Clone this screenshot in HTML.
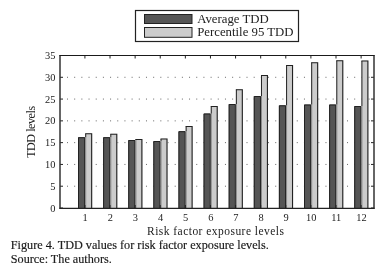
<!DOCTYPE html>
<html><head><meta charset="utf-8"><style>
html,body{margin:0;padding:0;background:#fff;width:390px;height:273px;overflow:hidden}
svg{display:block;will-change:transform}
text{font-family:"Liberation Serif",serif;fill:#222}
</style></head><body>
<svg width="390" height="273" viewBox="0 0 390 273">
<line x1="67.0" y1="186.21" x2="371" y2="186.21" stroke="#666" stroke-width="1" stroke-dasharray="1 6.18"/>
<line x1="67.0" y1="164.43" x2="371" y2="164.43" stroke="#666" stroke-width="1" stroke-dasharray="1 6.18"/>
<line x1="67.0" y1="142.64" x2="371" y2="142.64" stroke="#666" stroke-width="1" stroke-dasharray="1 6.18"/>
<line x1="67.0" y1="120.86" x2="371" y2="120.86" stroke="#666" stroke-width="1" stroke-dasharray="1 6.18"/>
<line x1="67.0" y1="99.07" x2="371" y2="99.07" stroke="#666" stroke-width="1" stroke-dasharray="1 6.18"/>
<line x1="67.0" y1="77.29" x2="371" y2="77.29" stroke="#666" stroke-width="1" stroke-dasharray="1 6.18"/>
<rect x="78.01" y="137.20" width="7.2" height="70.80" fill="#555"/>
<rect x="85.21" y="133.30" width="7.0" height="74.70" fill="#ccc"/>
<path d="M78.51,208 V137.70 H84.71 V208" fill="none" stroke="#222" stroke-width="1"/>
<path d="M85.71,208 V137.20" fill="none" stroke="#888" stroke-width="1"/>
<path d="M85.71,137.20 V133.80" fill="none" stroke="#222" stroke-width="1"/>
<path d="M85.21,133.80 H91.66 V208" fill="none" stroke="#222" stroke-width="1.1"/>
<rect x="103.12" y="137.20" width="7.2" height="70.80" fill="#555"/>
<rect x="110.32" y="133.70" width="7.0" height="74.30" fill="#ccc"/>
<path d="M103.62,208 V137.70 H109.82 V208" fill="none" stroke="#222" stroke-width="1"/>
<path d="M110.82,208 V137.20" fill="none" stroke="#888" stroke-width="1"/>
<path d="M110.82,137.20 V134.20" fill="none" stroke="#222" stroke-width="1"/>
<path d="M110.32,134.20 H116.77 V208" fill="none" stroke="#222" stroke-width="1.1"/>
<rect x="128.23" y="140.00" width="7.2" height="68.00" fill="#555"/>
<rect x="135.43" y="139.00" width="7.0" height="69.00" fill="#ccc"/>
<path d="M128.73,208 V140.50 H134.93 V208" fill="none" stroke="#222" stroke-width="1"/>
<path d="M135.93,208 V140.00" fill="none" stroke="#888" stroke-width="1"/>
<path d="M135.93,140.00 V139.50" fill="none" stroke="#222" stroke-width="1"/>
<path d="M135.43,139.50 H141.88 V208" fill="none" stroke="#222" stroke-width="1.1"/>
<rect x="153.34" y="141.00" width="7.2" height="67.00" fill="#555"/>
<rect x="160.54" y="138.50" width="7.0" height="69.50" fill="#ccc"/>
<path d="M153.84,208 V141.50 H160.04 V208" fill="none" stroke="#222" stroke-width="1"/>
<path d="M161.04,208 V141.00" fill="none" stroke="#888" stroke-width="1"/>
<path d="M161.04,141.00 V139.00" fill="none" stroke="#222" stroke-width="1"/>
<path d="M160.54,139.00 H166.99 V208" fill="none" stroke="#222" stroke-width="1.1"/>
<rect x="178.45" y="131.20" width="7.2" height="76.80" fill="#555"/>
<rect x="185.65" y="126.00" width="7.0" height="82.00" fill="#ccc"/>
<path d="M178.95,208 V131.70 H185.15 V208" fill="none" stroke="#222" stroke-width="1"/>
<path d="M186.15,208 V131.20" fill="none" stroke="#888" stroke-width="1"/>
<path d="M186.15,131.20 V126.50" fill="none" stroke="#222" stroke-width="1"/>
<path d="M185.65,126.50 H192.10 V208" fill="none" stroke="#222" stroke-width="1.1"/>
<rect x="203.56" y="113.50" width="7.2" height="94.50" fill="#555"/>
<rect x="210.76" y="106.00" width="7.0" height="102.00" fill="#ccc"/>
<path d="M204.06,208 V114.00 H210.26 V208" fill="none" stroke="#222" stroke-width="1"/>
<path d="M211.26,208 V113.50" fill="none" stroke="#888" stroke-width="1"/>
<path d="M211.26,113.50 V106.50" fill="none" stroke="#222" stroke-width="1"/>
<path d="M210.76,106.50 H217.21 V208" fill="none" stroke="#222" stroke-width="1.1"/>
<rect x="228.67" y="104.00" width="7.2" height="104.00" fill="#555"/>
<rect x="235.87" y="89.20" width="7.0" height="118.80" fill="#ccc"/>
<path d="M229.17,208 V104.50 H235.37 V208" fill="none" stroke="#222" stroke-width="1"/>
<path d="M236.37,208 V104.00" fill="none" stroke="#888" stroke-width="1"/>
<path d="M236.37,104.00 V89.70" fill="none" stroke="#222" stroke-width="1"/>
<path d="M235.87,89.70 H242.32 V208" fill="none" stroke="#222" stroke-width="1.1"/>
<rect x="253.78" y="96.00" width="7.2" height="112.00" fill="#555"/>
<rect x="260.98" y="75.00" width="7.0" height="133.00" fill="#ccc"/>
<path d="M254.28,208 V96.50 H260.48 V208" fill="none" stroke="#222" stroke-width="1"/>
<path d="M261.48,208 V96.00" fill="none" stroke="#888" stroke-width="1"/>
<path d="M261.48,96.00 V75.50" fill="none" stroke="#222" stroke-width="1"/>
<path d="M260.98,75.50 H267.43 V208" fill="none" stroke="#222" stroke-width="1.1"/>
<rect x="278.89" y="105.30" width="7.2" height="102.70" fill="#555"/>
<rect x="286.09" y="65.00" width="7.0" height="143.00" fill="#ccc"/>
<path d="M279.39,208 V105.80 H285.59 V208" fill="none" stroke="#222" stroke-width="1"/>
<path d="M286.59,208 V105.30" fill="none" stroke="#888" stroke-width="1"/>
<path d="M286.59,105.30 V65.50" fill="none" stroke="#222" stroke-width="1"/>
<path d="M286.09,65.50 H292.54 V208" fill="none" stroke="#222" stroke-width="1.1"/>
<rect x="304.00" y="104.50" width="7.2" height="103.50" fill="#555"/>
<rect x="311.20" y="62.20" width="7.0" height="145.80" fill="#ccc"/>
<path d="M304.50,208 V105.00 H310.70 V208" fill="none" stroke="#222" stroke-width="1"/>
<path d="M311.70,208 V104.50" fill="none" stroke="#888" stroke-width="1"/>
<path d="M311.70,104.50 V62.70" fill="none" stroke="#222" stroke-width="1"/>
<path d="M311.20,62.70 H317.65 V208" fill="none" stroke="#222" stroke-width="1.1"/>
<rect x="329.11" y="104.50" width="7.2" height="103.50" fill="#555"/>
<rect x="336.31" y="60.20" width="7.0" height="147.80" fill="#ccc"/>
<path d="M329.61,208 V105.00 H335.81 V208" fill="none" stroke="#222" stroke-width="1"/>
<path d="M336.81,208 V104.50" fill="none" stroke="#888" stroke-width="1"/>
<path d="M336.81,104.50 V60.70" fill="none" stroke="#222" stroke-width="1"/>
<path d="M336.31,60.70 H342.76 V208" fill="none" stroke="#222" stroke-width="1.1"/>
<rect x="354.22" y="106.00" width="7.2" height="102.00" fill="#555"/>
<rect x="361.42" y="60.50" width="7.0" height="147.50" fill="#ccc"/>
<path d="M354.72,208 V106.50 H360.92 V208" fill="none" stroke="#222" stroke-width="1"/>
<path d="M361.92,208 V106.00" fill="none" stroke="#888" stroke-width="1"/>
<path d="M361.92,106.00 V61.00" fill="none" stroke="#222" stroke-width="1"/>
<path d="M361.42,61.00 H367.87 V208" fill="none" stroke="#222" stroke-width="1.1"/>
<line x1="84.91" y1="208" x2="84.91" y2="205" stroke="#222" stroke-width="1"/>
<line x1="84.91" y1="55.5" x2="84.91" y2="58.5" stroke="#222" stroke-width="1"/>
<line x1="110.02" y1="208" x2="110.02" y2="205" stroke="#222" stroke-width="1"/>
<line x1="110.02" y1="55.5" x2="110.02" y2="58.5" stroke="#222" stroke-width="1"/>
<line x1="135.13" y1="208" x2="135.13" y2="205" stroke="#222" stroke-width="1"/>
<line x1="135.13" y1="55.5" x2="135.13" y2="58.5" stroke="#222" stroke-width="1"/>
<line x1="160.24" y1="208" x2="160.24" y2="205" stroke="#222" stroke-width="1"/>
<line x1="160.24" y1="55.5" x2="160.24" y2="58.5" stroke="#222" stroke-width="1"/>
<line x1="185.35" y1="208" x2="185.35" y2="205" stroke="#222" stroke-width="1"/>
<line x1="185.35" y1="55.5" x2="185.35" y2="58.5" stroke="#222" stroke-width="1"/>
<line x1="210.46" y1="208" x2="210.46" y2="205" stroke="#222" stroke-width="1"/>
<line x1="210.46" y1="55.5" x2="210.46" y2="58.5" stroke="#222" stroke-width="1"/>
<line x1="235.57" y1="208" x2="235.57" y2="205" stroke="#222" stroke-width="1"/>
<line x1="235.57" y1="55.5" x2="235.57" y2="58.5" stroke="#222" stroke-width="1"/>
<line x1="260.68" y1="208" x2="260.68" y2="205" stroke="#222" stroke-width="1"/>
<line x1="260.68" y1="55.5" x2="260.68" y2="58.5" stroke="#222" stroke-width="1"/>
<line x1="285.79" y1="208" x2="285.79" y2="205" stroke="#222" stroke-width="1"/>
<line x1="285.79" y1="55.5" x2="285.79" y2="58.5" stroke="#222" stroke-width="1"/>
<line x1="310.90" y1="208" x2="310.90" y2="205" stroke="#222" stroke-width="1"/>
<line x1="310.90" y1="55.5" x2="310.90" y2="58.5" stroke="#222" stroke-width="1"/>
<line x1="336.01" y1="208" x2="336.01" y2="205" stroke="#222" stroke-width="1"/>
<line x1="336.01" y1="55.5" x2="336.01" y2="58.5" stroke="#222" stroke-width="1"/>
<line x1="361.12" y1="208" x2="361.12" y2="205" stroke="#222" stroke-width="1"/>
<line x1="361.12" y1="55.5" x2="361.12" y2="58.5" stroke="#222" stroke-width="1"/>
<line x1="60" y1="208.00" x2="63" y2="208.00" stroke="#222" stroke-width="1"/>
<line x1="374" y1="208.00" x2="371" y2="208.00" stroke="#222" stroke-width="1"/>
<line x1="60" y1="186.21" x2="63" y2="186.21" stroke="#222" stroke-width="1"/>
<line x1="374" y1="186.21" x2="371" y2="186.21" stroke="#222" stroke-width="1"/>
<line x1="60" y1="164.43" x2="63" y2="164.43" stroke="#222" stroke-width="1"/>
<line x1="374" y1="164.43" x2="371" y2="164.43" stroke="#222" stroke-width="1"/>
<line x1="60" y1="142.64" x2="63" y2="142.64" stroke="#222" stroke-width="1"/>
<line x1="374" y1="142.64" x2="371" y2="142.64" stroke="#222" stroke-width="1"/>
<line x1="60" y1="120.86" x2="63" y2="120.86" stroke="#222" stroke-width="1"/>
<line x1="374" y1="120.86" x2="371" y2="120.86" stroke="#222" stroke-width="1"/>
<line x1="60" y1="99.07" x2="63" y2="99.07" stroke="#222" stroke-width="1"/>
<line x1="374" y1="99.07" x2="371" y2="99.07" stroke="#222" stroke-width="1"/>
<line x1="60" y1="77.29" x2="63" y2="77.29" stroke="#222" stroke-width="1"/>
<line x1="374" y1="77.29" x2="371" y2="77.29" stroke="#222" stroke-width="1"/>
<line x1="60" y1="55.50" x2="63" y2="55.50" stroke="#222" stroke-width="1"/>
<line x1="374" y1="55.50" x2="371" y2="55.50" stroke="#222" stroke-width="1"/>
<path d="M60,55.5 V208.6" fill="none" stroke="#333" stroke-width="1.5"/>
<path d="M374,55.5 V208.6" fill="none" stroke="#333" stroke-width="1.5"/>
<line x1="59.25" y1="208.3" x2="374.75" y2="208.3" stroke="#222" stroke-width="1.2"/>
<line x1="59.25" y1="55.5" x2="374.75" y2="55.5" stroke="#1a1a1a" stroke-width="1.05"/>
<text x="55.5" y="211.50" text-anchor="end" font-size="10.4" fill="#444">0</text>
<text x="55.5" y="189.71" text-anchor="end" font-size="10.4" fill="#444">5</text>
<text x="55.5" y="167.93" text-anchor="end" font-size="10.4" fill="#444">10</text>
<text x="55.5" y="146.14" text-anchor="end" font-size="10.4" fill="#444">15</text>
<text x="55.5" y="124.36" text-anchor="end" font-size="10.4" fill="#444">20</text>
<text x="55.5" y="102.57" text-anchor="end" font-size="10.4" fill="#444">25</text>
<text x="55.5" y="80.79" text-anchor="end" font-size="10.4" fill="#444">30</text>
<text x="55.5" y="59.00" text-anchor="end" font-size="10.4" fill="#444">35</text>
<text x="85.21" y="220.8" text-anchor="middle" font-size="10.4" fill="#444">1</text>
<text x="110.32" y="220.8" text-anchor="middle" font-size="10.4" fill="#444">2</text>
<text x="135.43" y="220.8" text-anchor="middle" font-size="10.4" fill="#444">3</text>
<text x="160.54" y="220.8" text-anchor="middle" font-size="10.4" fill="#444">4</text>
<text x="185.65" y="220.8" text-anchor="middle" font-size="10.4" fill="#444">5</text>
<text x="210.76" y="220.8" text-anchor="middle" font-size="10.4" fill="#444">6</text>
<text x="235.87" y="220.8" text-anchor="middle" font-size="10.4" fill="#444">7</text>
<text x="260.98" y="220.8" text-anchor="middle" font-size="10.4" fill="#444">8</text>
<text x="286.09" y="220.8" text-anchor="middle" font-size="10.4" fill="#444">9</text>
<text x="311.20" y="220.8" text-anchor="middle" font-size="10.4" fill="#444">10</text>
<text x="336.31" y="220.8" text-anchor="middle" font-size="10.4" fill="#444">11</text>
<text x="361.42" y="220.8" text-anchor="middle" font-size="10.4" fill="#444">12</text>
<text x="147" y="234.5" font-size="11.5" fill="#444" textLength="137" lengthAdjust="spacing">Risk factor exposure levels</text>
<text transform="translate(34.9,157.8) rotate(-90)" x="0" y="0" font-size="12" fill="#222" textLength="51.9" lengthAdjust="spacing">TDD levels</text>
<rect x="135.5" y="10.5" width="163" height="31" fill="#fff" stroke="#222" stroke-width="1.2"/>
<rect x="144.5" y="14.5" width="47.5" height="9" fill="#555" stroke="#222" stroke-width="1"/>
<rect x="144.5" y="27.5" width="47.5" height="9.8" fill="#ccc" stroke="#222" stroke-width="1"/>
<text x="197.2" y="23.2" font-size="11.9" fill="#333" textLength="71.6" lengthAdjust="spacingAndGlyphs">Average TDD</text>
<text x="197.2" y="36.1" font-size="11.9" fill="#333" textLength="96.4" lengthAdjust="spacingAndGlyphs">Percentile 95 TDD</text>
<text x="10.8" y="248.8" font-size="12.6" fill="#000" stroke="#000" stroke-width="0.15" textLength="258" lengthAdjust="spacingAndGlyphs">Figure 4. TDD values for risk factor exposure levels.</text>
<text x="10.8" y="263" font-size="12.6" fill="#000" stroke="#000" stroke-width="0.15" textLength="101" lengthAdjust="spacingAndGlyphs">Source: The authors.</text>
</svg>
</body></html>
